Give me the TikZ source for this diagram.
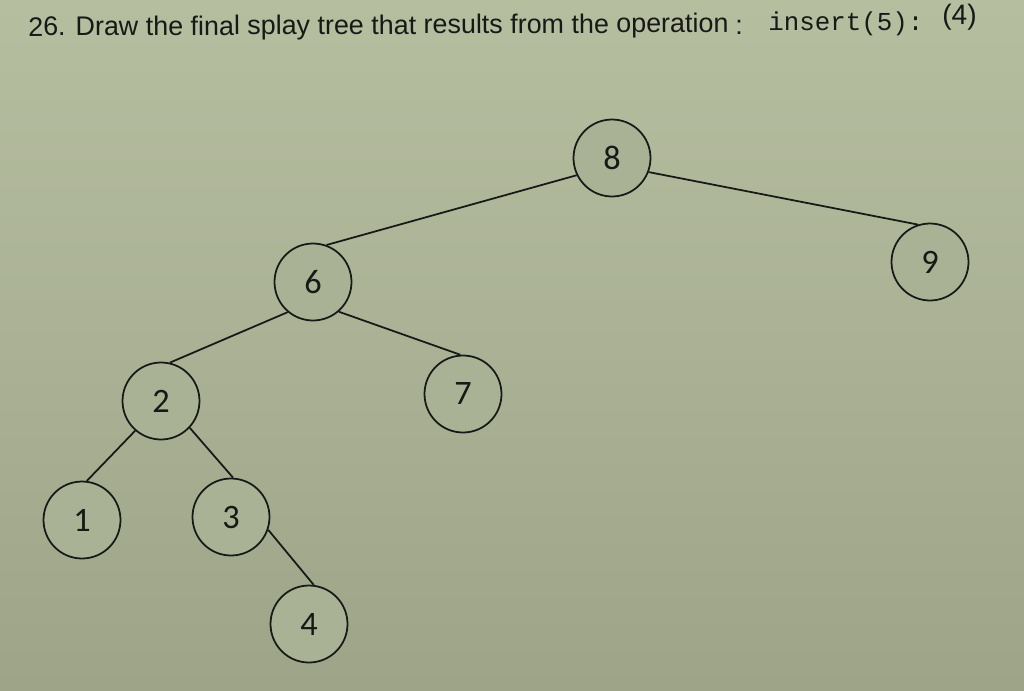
\documentclass[tikz,border=0pt]{standalone}
\usepackage{fontspec}
\setmainfont{Liberation Sans}
\newfontfamily\digitfont{Carlito}
\newfontfamily\monofont{Liberation Mono}
\definecolor{paperlight}{RGB}{182,190,160}
\definecolor{paperdark}{RGB}{158,164,136}
\definecolor{nodefill}{RGB}{170,178,150}
\definecolor{ink}{RGB}{22,25,22}
\begin{document}
\begin{tikzpicture}[x=0.02cm,y=-0.02cm,
  tnode/.style={circle,draw=ink,line width=1pt,fill=nodefill,minimum size=1.54cm,inner sep=0pt,font=\digitfont\fontsize{19.5}{20}\selectfont,text=ink},
  edge/.style={draw=ink,line width=1pt},
  head/.style={anchor=base west,inner sep=0pt,text=ink}]
\shade[top color=paperlight,bottom color=paperdark] (0,0) rectangle (1024,690);
\useasboundingbox (0,0) rectangle (1024,690);
\node[head,font=\fontsize{15.3}{17}\selectfont,rotate=0.3] (q) at (28,36) {26. Draw the final splay tree that results from the operation};
\node[head,font=\fontsize{15.3}{17}\selectfont] (colon) at (735,34) {:};
\node[head,font=\monofont\fontsize{14.7}{16}\selectfont] (op) at (768,30) {insert(5):};
\node[head,font=\fontsize{16}{17}\selectfont] (pts) at (942,24) {(4)};
\node[tnode] (n8) at (612,158) {8};
\node[tnode] (n9) at (930,262) {9};
\node[tnode] (n6) at (313,282) {6};
\node[tnode] (n7) at (463,394) {7};
\node[tnode] (n2) at (161,401) {2};
\node[tnode] (n1) at (82,520) {1};
\node[tnode] (n3) at (231,517) {3};
\node[tnode] (n4) at (309,624) {4};
\draw[edge] (n8.206) -- (n6.70);
\draw[edge] (n8.339) -- (n9.108);
\draw[edge] (n6.230) -- (n2.77);
\draw[edge] (n6.311) -- (n7.94);
\draw[edge] (n2.229) -- (n1.83);
\draw[edge] (n2.317) -- (n3.87);
\draw[edge] (n3.341) -- (n4.83);
\end{tikzpicture}
\end{document}
